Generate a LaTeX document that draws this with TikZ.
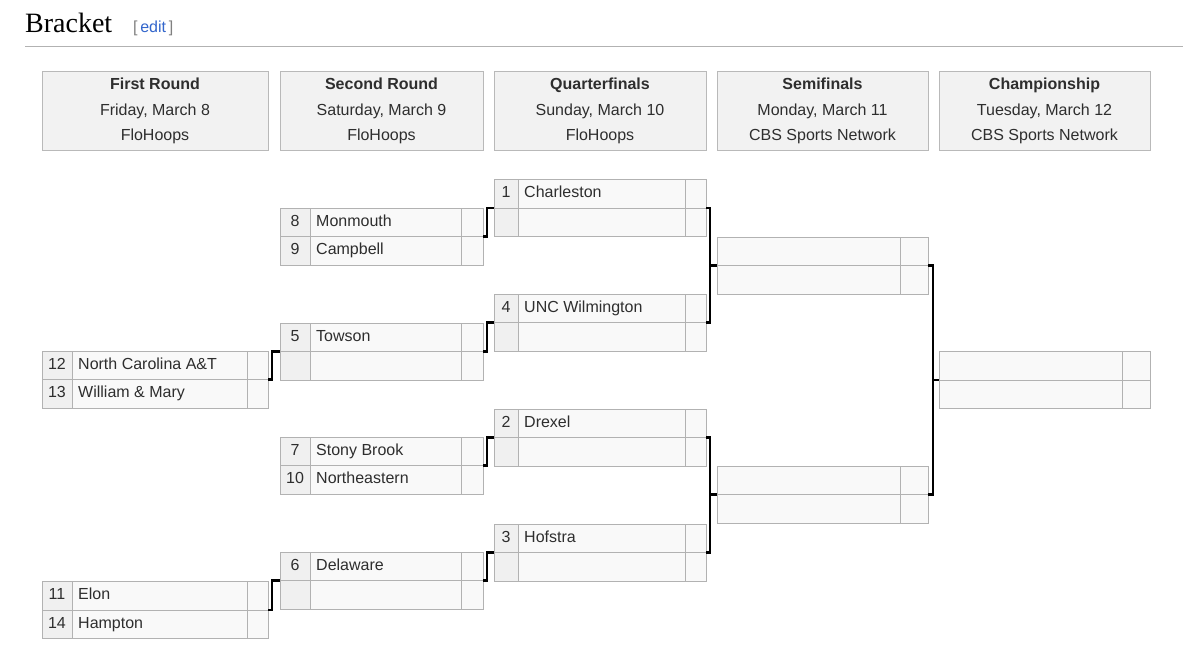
\documentclass[tikz,border=0pt]{standalone}
\usepackage{fontspec}
\setmainfont{Liberation Sans}
\newfontfamily\serifx{Liberation Serif}
\begin{document}
\begin{tikzpicture}[x=1pt,y=-1pt,
  cellS/.style={fill=gray!12,draw=gray!60,line width=0.8pt},
  cellN/.style={fill=gray!5,draw=gray!60,line width=0.8pt},
  hdr/.style={fill=gray!10,draw=gray!55,line width=0.8pt},
  txt/.style={font=\fontsize{16}{18}\selectfont,text=black!82,inner sep=0pt,text height=11.5pt,text depth=3.5pt},
  con/.style={line width=2.2pt,black}]
\useasboundingbox (0,0) rectangle (1200,651);
\fill[white] (0,0) rectangle (1200,651);
\node[anchor=base west,inner sep=0pt,font=\serifx\fontsize{28}{30}\selectfont] (title) at (25,32) {Bracket};
\node[anchor=base west,inner sep=0pt,font=\fontsize{16}{18}\selectfont,text=gray] (edit) at (133,32) {[\,\textcolor[HTML]{3366CC}{edit}\,]};
\draw[gray!60,line width=0.8pt] (25,46) -- (1183,46);
% headers
\newcommand\hd[5]{%
  \path[hdr] (#1,71) rectangle (#2,150);
  \node[txt,font=\bfseries\fontsize{16}{18}\selectfont] at ({(#1+#2)/2},85) {#3};
  \node[txt] at ({(#1+#2)/2},111) {#4};
  \node[txt] at ({(#1+#2)/2},136) {#5};}
\hd{42}{268}{First Round}{Friday, March 8}{FloHoops}
\hd{280}{483}{Second Round}{Saturday, March 9}{FloHoops}
\hd{494}{706}{Quarterfinals}{Sunday, March 10}{FloHoops}
\hd{717}{928}{Semifinals}{Monday, March 11}{CBS Sports Network}
\hd{939}{1150}{Championship}{Tuesday, March 12}{CBS Sports Network}
% match macro
\def\h{28.5}
\newcommand\mt[9]{%
  \def\xa{#2}\def\ya{#3}\def\ws{#4}\def\wn{#5}\def\wc{#6}%
  \foreach \r/\s/\t in {0/#7/#8,1/#9/\tmpT}{%
    \ifdim\ws pt>0pt
      \path[cellS] (\xa,\ya+\r*\h) rectangle ++(\ws,\h);
      \node[txt] at (\xa+\ws/2,\ya+\r*\h+\h/2) {\s};
    \fi
    \path[cellN] (\xa+\ws,\ya+\r*\h) rectangle ++(\wn,\h);
    \path[cellN] (\xa+\ws+\wn,\ya+\r*\h) rectangle ++(\wc,\h);
    \node[txt,anchor=west] at (\xa+\ws+6,\ya+\r*\h+\h/2) {\t};
  }
  \coordinate (#1-l) at (\xa,\ya+\h);
  \coordinate (#1-r) at (\xa+\ws+\wn+\wc,\ya+\h);}
% first round
\def\tmpT{William \& Mary}\mt{F1}{42}{351}{30}{175}{21}{12}{North Carolina A\&T}{13}
\def\tmpT{Hampton}\mt{F2}{42}{581.5}{30}{175}{21}{11}{Elon}{14}
% second round
\def\tmpT{Campbell}\mt{R1}{280}{208}{30}{151}{22}{8}{Monmouth}{9}
\def\tmpT{}\mt{R2}{280}{323}{30}{151}{22}{5}{Towson}{}
\def\tmpT{Northeastern}\mt{R3}{280}{437}{30}{151}{22}{7}{Stony Brook}{10}
\def\tmpT{}\mt{R4}{280}{552}{30}{151}{22}{6}{Delaware}{}
% quarterfinals
\def\tmpT{}\mt{Q1}{494}{179.5}{24}{167}{21}{1}{Charleston}{}
\def\tmpT{}\mt{Q2}{494}{294}{24}{167}{21}{4}{UNC Wilmington}{}
\def\tmpT{}\mt{Q3}{494}{409}{24}{167}{21}{2}{Drexel}{}
\def\tmpT{}\mt{Q4}{494}{524}{24}{167}{21}{3}{Hofstra}{}
% semis
\def\tmpT{}\mt{S1}{717}{237}{0}{183}{28}{}{}{}
\def\tmpT{}\mt{S2}{717}{466}{0}{183}{28}{}{}{}
% final
\def\tmpT{}\mt{C1}{939}{351.5}{0}{183}{28}{}{}{}
% connectors
\draw[con] (F1-r) -- ++(4,0) |- (R2-l);
\draw[con] (F2-r) -- ++(4,0) |- (R4-l);
\draw[con] (R1-r) -- ++(4,0) |- (Q1-l);
\draw[con] (R2-r) -- ++(4,0) |- (Q2-l);
\draw[con] (R3-r) -- ++(4,0) |- (Q3-l);
\draw[con] (R4-r) -- ++(4,0) |- (Q4-l);
\draw[con] (Q1-r) -- ++(4,0) coordinate (a1) |- (Q2-r);
\draw[con] (a1 |- S1-l) -- (S1-l);
\draw[con] (Q3-r) -- ++(4,0) coordinate (a2) |- (Q4-r);
\draw[con] (a2 |- S2-l) -- (S2-l);
\draw[con] (S1-r) -- ++(5,0) coordinate (a3) |- (S2-r);
\draw[con] (a3 |- C1-l) -- (C1-l);
\end{tikzpicture}
\end{document}
